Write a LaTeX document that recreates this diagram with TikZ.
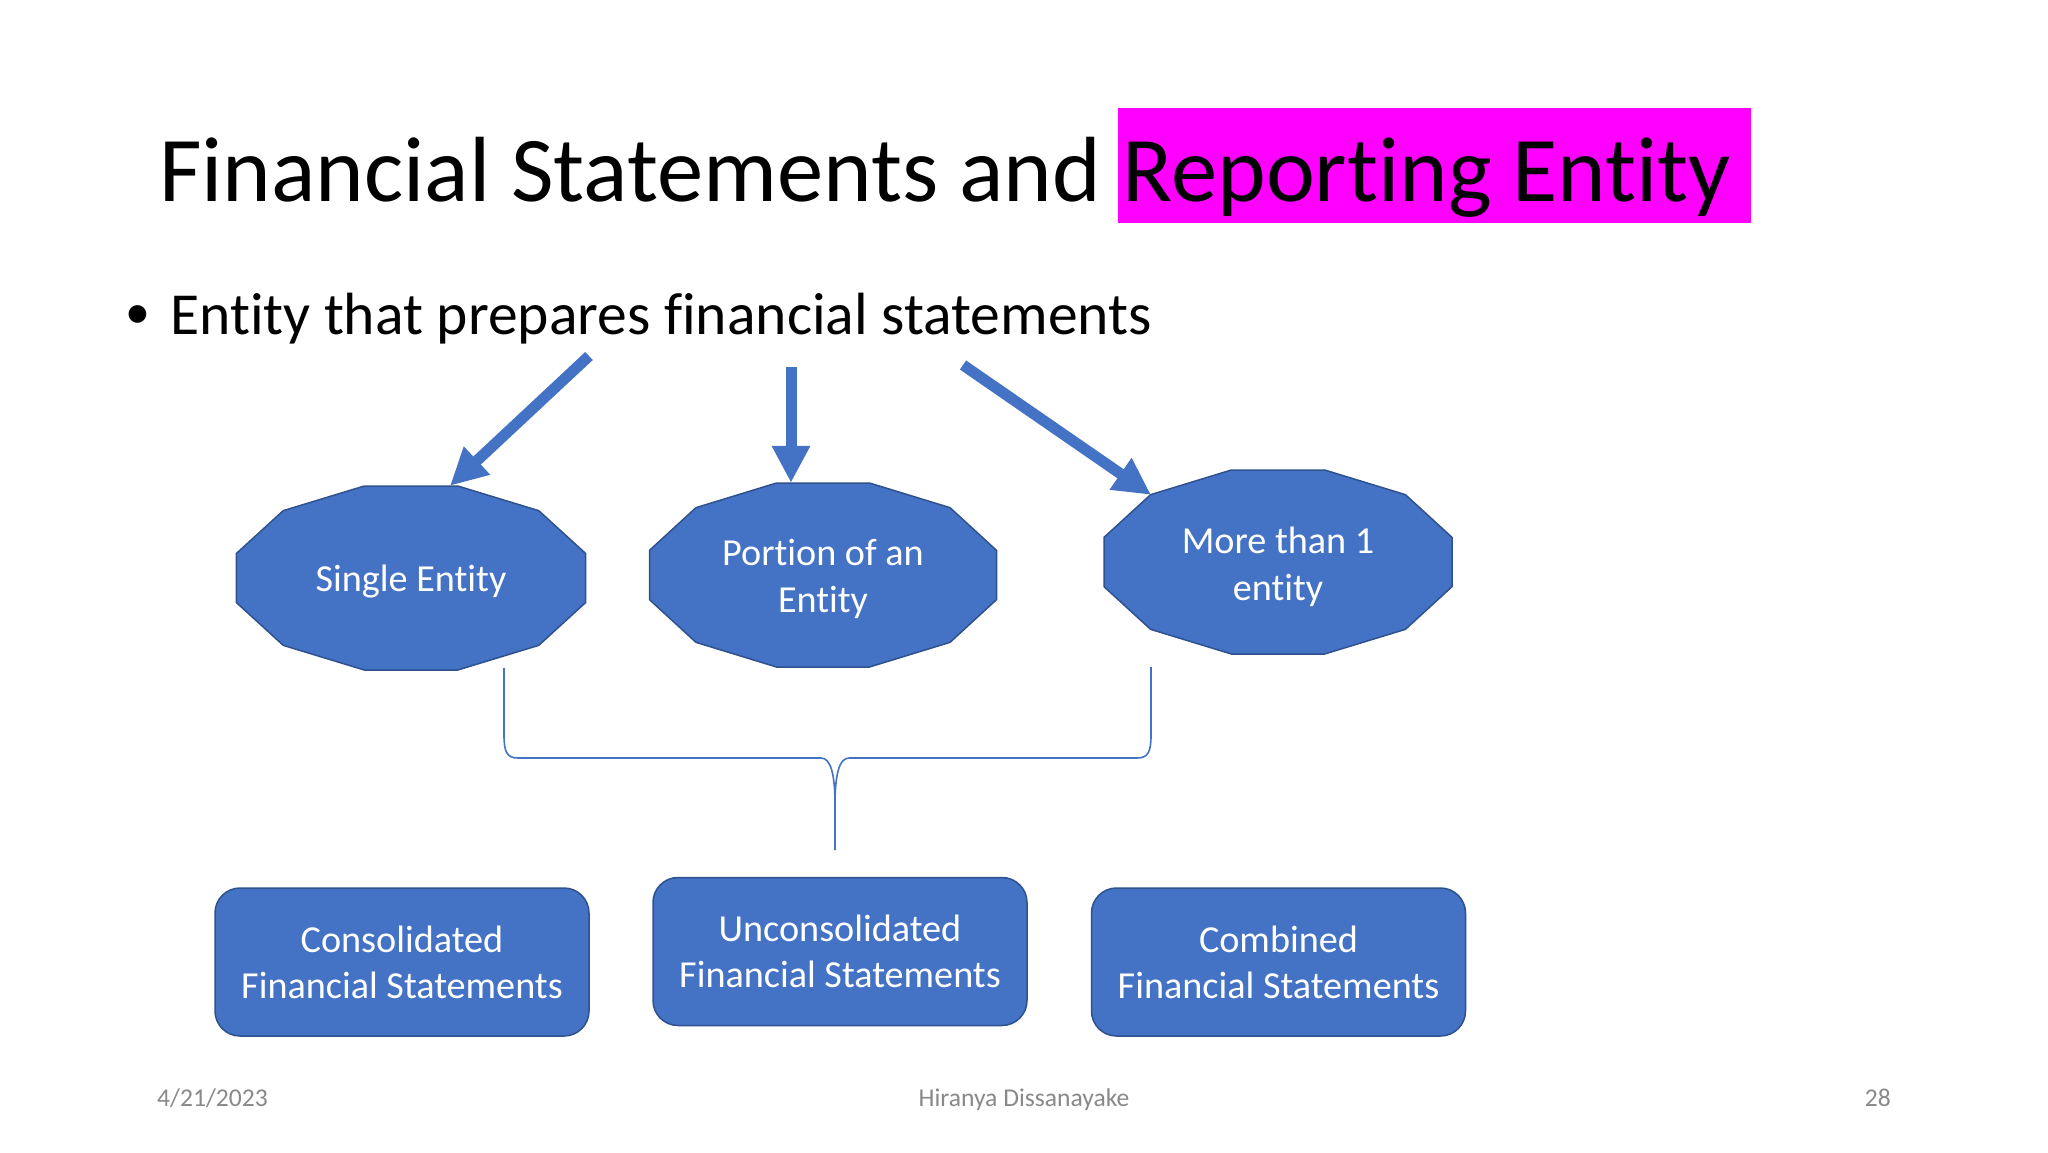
\documentclass[tikz,border=0pt]{standalone}
\usepackage{fontspec}
\setmainfont{Carlito}[Ligatures=NoCommon]
\usetikzlibrary{arrows.meta,calc,backgrounds}
\definecolor{accent}{HTML}{4472C4}
\definecolor{accentdark}{HTML}{2F528F}
\definecolor{footgray}{HTML}{898989}
\definecolor{hilite}{HTML}{FF00FF}
\tikzset{
  dodeca/.style={fill=accent, draw=accentdark, line width=1.5pt},
  dodtext/.style={text=white, font=\fontsize{38.2}{46.5}\selectfont, align=center,
    minimum width=349pt, minimum height=184pt, inner sep=0pt},
  fsbox/.style={fill=accent, draw=accentdark, line width=1.5pt, rounded corners=25pt,
    text=white, font=\fontsize{38.2}{46}\selectfont, align=center,
    minimum width=374pt, minimum height=148pt, inner sep=0pt},
  bigarrow/.style={draw=accent, line width=11pt, -{Triangle[length=37pt,width=36pt]}},
  bracket/.style={draw=accent, line width=1.6pt},
  footer/.style={text=footgray, font=\fontsize{25.6}{30}\selectfont, inner sep=0pt},
  titletext/.style={font=\fontsize{92.6}{112}\selectfont, inner sep=0pt, anchor=base west},
  subtext/.style={font=\fontsize{59.6}{72}\selectfont, inner sep=0pt, anchor=base west},
}
\begin{document}
\begin{tikzpicture}[x=1pt,y=-1pt]
\useasboundingbox (0,0) rectangle (2048,1152);

% title
\node[titletext] (t1) at (159,201) {Financial Statements and};
\node[titletext] (t2) at ($(t1.base east)+(21,0)$) {Reporting Entity};
\begin{scope}[on background layer]
  \fill[white] (0,0) rectangle (2048,1152);
  \fill[hilite] ($(t2.base west)+(-5,-93)$) rectangle ($(t2.base east)+(20,22)$);
\end{scope}

% bullet
\node[font=\fontsize{50}{60}\selectfont, inner sep=0pt, anchor=base west] (bul) at (125,328) {•};
\node[subtext] (sub) at (170,334) {Entity that prepares financial statements};

% dodecagons
\draw[dodeca, shift={(411,578)}, xscale=180.66, yscale=95.25]
  (15:1) -- (45:1) -- (75:1) -- (105:1) -- (135:1) -- (165:1) -- (195:1) -- (225:1)
  -- (255:1) -- (285:1) -- (315:1) -- (345:1) -- cycle;
\node[dodtext] (single) at (411,582) {Single Entity};
\draw[dodeca, shift={(823,575)}, xscale=179.62, yscale=95.25]
  (15:1) -- (45:1) -- (75:1) -- (105:1) -- (135:1) -- (165:1) -- (195:1) -- (225:1)
  -- (255:1) -- (285:1) -- (315:1) -- (345:1) -- cycle;
\node[dodtext] (portion) at (823,579) {Portion of an\\Entity};
\draw[dodeca, shift={(1278,562)}, xscale=180.14, yscale=95.25]
  (15:1) -- (45:1) -- (75:1) -- (105:1) -- (135:1) -- (165:1) -- (195:1) -- (225:1)
  -- (255:1) -- (285:1) -- (315:1) -- (345:1) -- cycle;
\node[dodtext] (more) at (1278,567) {More than 1\\entity};

% arrows
\coordinate (a1) at (589,356);
\coordinate (a2) at (791,367);
\coordinate (a3) at (963,365);
\draw[bigarrow] (a1) -- ([xshift=39pt,yshift=4pt]single.north);
\draw[bigarrow] (a2) -- ([xshift=-32pt,yshift=4pt]portion.north);
\draw[bigarrow] (a3) -- ([xshift=-127pt,yshift=-20pt]more.north);

% bracket
\coordinate (bl) at (504,668);
\coordinate (br) at (1151,667);
\coordinate (bt) at (835,850);
\draw[bracket] (bl) -- (504,735) .. controls (504,752) and (507,758) .. (518,758)
  -- (821,758) .. controls (831,758) and (835,775) .. (835,805) -- (bt);
\draw[bracket] (br) -- (1151,735) .. controls (1151,752) and (1148,758) .. (1137,758)
  -- (849,758) .. controls (839,758) and (835,775) .. (835,805);

% boxes
\node[fsbox] (cons) at (402,962) {Consolidated\\Financial Statements};
\node[fsbox] (uncons) at (840,951.5) {Unconsolidated\\Financial Statements};
\node[fsbox] (comb) at (1278.5,962) {Combined\\Financial Statements};

% footer
\node[footer, anchor=base west] (date) at (157,1106) {4/21/2023};
\node[footer, anchor=base] (author) at (1024,1106) {Hiranya Dissanayake};
\node[footer, anchor=base east] (page) at (1891,1106) {28};
\end{tikzpicture}
\end{document}
